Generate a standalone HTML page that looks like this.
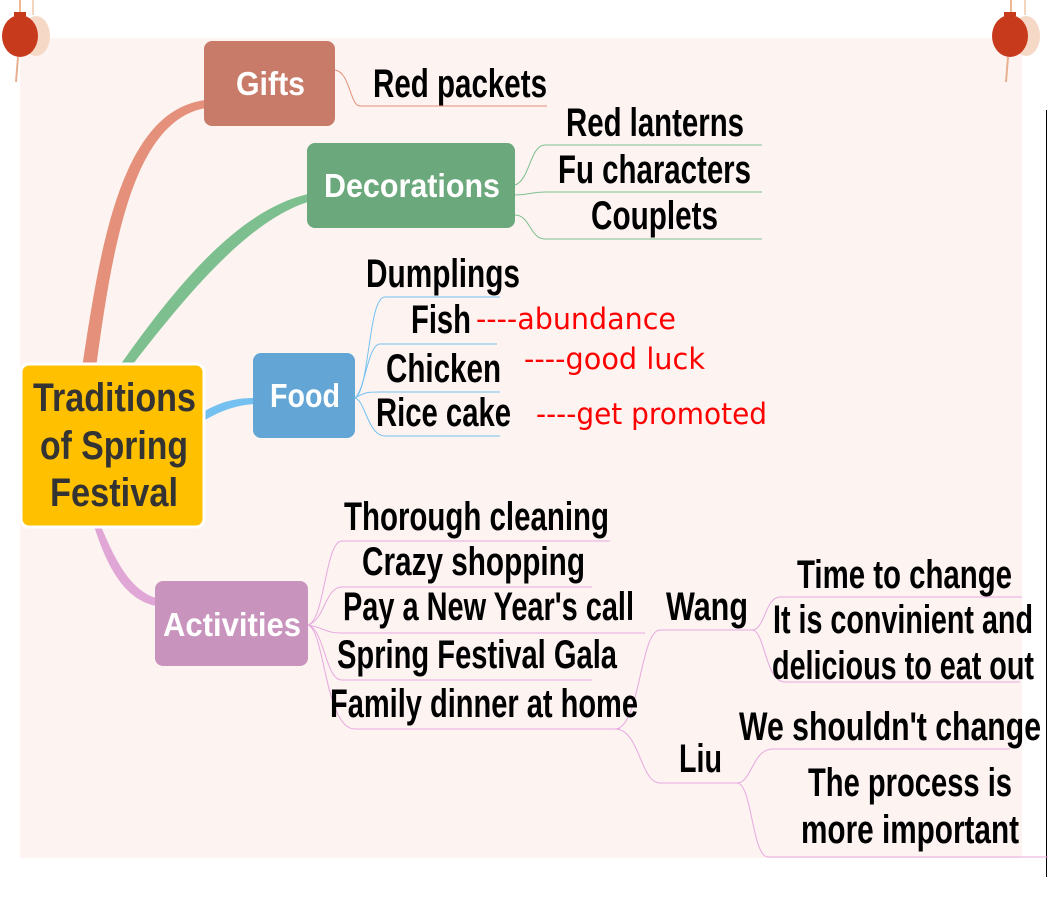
<!DOCTYPE html>
<html><head><meta charset="utf-8"><style>
html,body{margin:0;padding:0;background:#fff;}
svg{display:block}
.t{font-family:"Liberation Sans",sans-serif;font-weight:bold;fill:#000;}
.w{font-family:"Liberation Sans",sans-serif;font-weight:bold;fill:#fff;}
.r{font-family:"DejaVu Sans","Liberation Sans",sans-serif;fill:#f00;}
</style></head><body>
<svg width="1048" height="900" viewBox="0 0 1048 900" xmlns="http://www.w3.org/2000/svg">
<rect x="20" y="38" width="1002" height="820" fill="#fdf4f2"/>
<line x1="1046.5" y1="110" x2="1046.5" y2="877" stroke="#000" stroke-width="1"/>
<g>
<line x1="20" y1="0" x2="20" y2="15" stroke="#e8a070" stroke-width="1.5"/>
<line x1="33" y1="0" x2="33" y2="15" stroke="#f0c8a8" stroke-width="1.5"/>
<ellipse cx="36" cy="36" rx="14" ry="20" fill="#f6d8c6"/>
<ellipse cx="20" cy="36" rx="18" ry="21" fill="#c83a1c"/>
<rect x="14" y="12" width="12" height="4" fill="#c83a1c"/>
<line x1="18" y1="57" x2="16" y2="82" stroke="#e8b090" stroke-width="2"/>
<line x1="1011" y1="0" x2="1011" y2="15" stroke="#e8a070" stroke-width="1.5"/>
<line x1="1025" y1="0" x2="1025" y2="15" stroke="#f0c8a8" stroke-width="1.5"/>
<ellipse cx="1026" cy="36" rx="14" ry="20" fill="#f6d8c6"/>
<ellipse cx="1010" cy="36" rx="18" ry="21" fill="#c83a1c"/>
<rect x="1004" y="12" width="12" height="4" fill="#c83a1c"/>
<line x1="1008" y1="57" x2="1006" y2="82" stroke="#e8b090" stroke-width="2"/>
</g>
<path d="M82 368 C100 250 120 110 206 100 L206 108 C132 120 112 250 96 368 Z" fill="#e4907a"/>
<path d="M118 368 C180 280 240 210 308 194 L308 202 C250 220 190 290 130 368 Z" fill="#7dbf8e"/>
<path d="M203 412 C220 402 235 398 254 398 L254 404 C238 405 222 410 205 420 Z" fill="#74c0f0"/>
<path d="M100 524 C115 560 130 590 156 598 L156 606 C126 600 108 570 94 526 Z" fill="#e0a6d6"/>
<rect x="204" y="41" width="131" height="85" rx="8" fill="#c87b69"/>
<rect x="307" y="143" width="208" height="85" rx="8" fill="#6ba87b"/>
<rect x="253" y="353" width="102" height="85" rx="8" fill="#63a6d6"/>
<rect x="155" y="581" width="153" height="85" rx="8" fill="#c894bd"/>
<rect x="21" y="364" width="183" height="163" rx="8" fill="#ffc000" stroke="#fff" stroke-width="3"/>
<g fill="none" stroke-width="1">
<path d="M335 70 C350 72 350 106 360 106 L547 106" stroke="#e4907a"/>
<g stroke="#7dbf8e">
<path d="M515 185 C530 180 530 145 545 145 L762 145"/>
<path d="M515 195 C530 195 530 192 545 192 L762 192"/>
<path d="M515 215 C530 215 530 239 545 239 L762 239"/>
</g>
<g stroke="#74c0f0">
<path d="M355 398 C370 390 368 297 385 297 L500 297"/>
<path d="M355 398 C365 390 368 344 380 344 L497 344"/>
<path d="M355 398 C365 392 368 392 380 392 L500 392"/>
<path d="M355 398 C365 400 368 436 385 436 L500 436"/>
</g>
<g stroke="#e6a8de">
<path d="M308 625 C325 620 325 541 342 541 L610 541"/>
<path d="M308 625 C325 620 325 587 342 587 L592 587"/>
<path d="M308 625 C325 628 325 633 342 633 L645 633"/>
<path d="M308 625 C325 630 325 680 342 680 L592 680"/>
<path d="M308 625 C325 630 325 729 355 729 L620 729"/>
<path d="M615 729 C640 729 640 630 660 630 L752 630"/>
<path d="M615 729 C640 729 640 783 660 783 L737 783"/>
<path d="M752 630 C765 630 765 597 780 597 L1022 597"/>
<path d="M752 630 C765 630 765 682 785 682 L1020 682"/>
<path d="M737 783 C752 783 752 749 773 749 L1010 749"/>
<path d="M737 783 C752 783 752 857 768 857 L1048 857"/>
</g>
</g>
<text class="w" x="236" y="95" font-size="33" textLength="69" lengthAdjust="spacingAndGlyphs">Gifts</text>
<text class="w" x="324" y="197" font-size="33" textLength="176" lengthAdjust="spacingAndGlyphs">Decorations</text>
<text class="w" x="270" y="407" font-size="33" textLength="70" lengthAdjust="spacingAndGlyphs">Food</text>
<text class="w" x="163" y="636" font-size="33" textLength="138" lengthAdjust="spacingAndGlyphs">Activities</text>
<g class="t" font-size="40" style="fill:#333">
<text x="33" y="411" textLength="163" lengthAdjust="spacingAndGlyphs">Traditions</text>
<text x="40" y="459" textLength="148" lengthAdjust="spacingAndGlyphs">of Spring</text>
<text x="50" y="506" textLength="128" lengthAdjust="spacingAndGlyphs">Festival</text>
</g>
<g class="t" font-size="40">
<text x="373" y="97" textLength="174" lengthAdjust="spacingAndGlyphs">Red packets</text>
<text x="566" y="136" textLength="178" lengthAdjust="spacingAndGlyphs">Red lanterns</text>
<text x="558" y="183" textLength="193" lengthAdjust="spacingAndGlyphs">Fu characters</text>
<text x="591" y="229" textLength="127" lengthAdjust="spacingAndGlyphs">Couplets</text>
<text x="366" y="287" textLength="154" lengthAdjust="spacingAndGlyphs">Dumplings</text>
<text x="411" y="333" textLength="60" lengthAdjust="spacingAndGlyphs">Fish</text>
<text x="386" y="382" textLength="115" lengthAdjust="spacingAndGlyphs">Chicken</text>
<text x="376" y="426" textLength="135" lengthAdjust="spacingAndGlyphs">Rice cake</text>
<text x="344" y="530" textLength="265" lengthAdjust="spacingAndGlyphs">Thorough cleaning</text>
<text x="362" y="575" textLength="223" lengthAdjust="spacingAndGlyphs">Crazy shopping</text>
<text x="343" y="620" textLength="291" lengthAdjust="spacingAndGlyphs">Pay a New Year's call</text>
<text x="337" y="668" textLength="280" lengthAdjust="spacingAndGlyphs">Spring Festival Gala</text>
<text x="330" y="717" textLength="308" lengthAdjust="spacingAndGlyphs">Family dinner at home</text>
<text x="666" y="620" textLength="82" lengthAdjust="spacingAndGlyphs">Wang</text>
<text x="679" y="772" textLength="43" lengthAdjust="spacingAndGlyphs">Liu</text>
<text x="797" y="588" textLength="215" lengthAdjust="spacingAndGlyphs">Time to change</text>
<text x="773" y="633" textLength="260" lengthAdjust="spacingAndGlyphs">It is convinient and</text>
<text x="772" y="679" textLength="262" lengthAdjust="spacingAndGlyphs">delicious to eat out</text>
<text x="739" y="740" textLength="302" lengthAdjust="spacingAndGlyphs">We shouldn't  change</text>
<text x="808" y="796" textLength="204" lengthAdjust="spacingAndGlyphs">The process is</text>
<text x="801" y="843" textLength="218" lengthAdjust="spacingAndGlyphs">more important</text>
</g>
<g class="r" font-size="29">
<text x="476" y="329" textLength="200" lengthAdjust="spacingAndGlyphs">----abundance</text>
<text x="524" y="369" textLength="181" lengthAdjust="spacingAndGlyphs">----good luck</text>
<text x="536" y="424" textLength="231" lengthAdjust="spacingAndGlyphs">----get promoted</text>
</g>
</svg>
</body></html>
